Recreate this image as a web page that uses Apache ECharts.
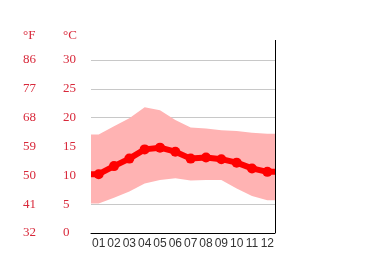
<!DOCTYPE html>
<html>
<head>
<meta charset="UTF-8">
<script src="https://cdn.jsdelivr.net/npm/echarts@6/dist/echarts.min.js"></script>
</head>
<body style="margin:0">
<div id="main" style="width:365px;height:273px;"></div>
<script>
var months = ['01', '02', '03', '04', '05', '06', '07', '08', '09', '10', '11', '12'];
var tMean = [10.2, 11.6, 12.9, 14.5, 14.8, 14.1, 12.9, 13.1, 12.8, 12.2, 11.2, 10.6];
var tHigh = [17.1, 18.5, 19.9, 21.8, 21.3, 19.6, 18.3, 18.1, 17.8, 17.7, 17.4, 17.2];
var tLow = [5.1, 6.1, 7.2, 8.6, 9.2, 9.5, 9.1, 9.2, 9.2, 7.7, 6.4, 5.7];

var red = '#d8283a';

// points at month centres, carried flat out to the plot edges
function pts(arr) {
    var out = [[0.5, arr[0]]];
    for (var i = 0; i < arr.length; i++) out.push([i + 1, arr[i]]);
    out.push([arr.length + 0.5, arr[arr.length - 1]]);
    return out;
}

var meanData = pts(tMean).map(function (p, i, a) {
    if (i === 0 || i === a.length - 1) return { value: p, symbol: 'none' };
    return { value: p };
});

var myChart = echarts.init(document.getElementById('main'));
var option = {
    animation: false,
    grid: { left: 91, right: 90, top: 60, bottom: 40 },
    graphic: [
        { type: 'text', left: 23, top: 29, style: { text: '°F', fill: red, font: '13px "Liberation Serif"' } },
        { type: 'text', left: 63, top: 29, style: { text: '°C', fill: red, font: '13px "Liberation Serif"' } },
        { type: 'line', shape: { x1: 275.5, y1: 40, x2: 275.5, y2: 233 }, style: { stroke: '#000', lineWidth: 1 } }
    ],
    xAxis: [{
        type: 'category',
        data: months,
        boundaryGap: true,
        axisLine: { lineStyle: { color: '#000' } },
        axisTick: { length: 5, lineStyle: { color: '#000' } },
        axisLabel: { color: '#333', fontFamily: 'Liberation Sans', fontSize: 12, margin: 5, interval: 0 }
    }, {
        type: 'value', min: 0.5, max: 12.5, show: false
    }],
    yAxis: [{
        type: 'value', min: 0, max: 30, interval: 5, position: 'left',
        axisLine: { show: false }, axisTick: { show: false },
        splitLine: { lineStyle: { color: '#c8c8c8' } },
        axisLabel: { align: 'left', margin: 28, color: red, fontFamily: 'Liberation Serif', fontSize: 13 }
    }, {
        type: 'value', min: 0, max: 30, interval: 5, position: 'left', offset: 40,
        axisLine: { show: false }, axisTick: { show: false }, splitLine: { show: false },
        axisLabel: {
            align: 'left', margin: 28, color: red, fontFamily: 'Liberation Serif', fontSize: 13,
            formatter: function (v) { return Math.round(v * 9 / 5 + 32); }
        }
    }],
    series: [{
        // min/max band as one polygon
        type: 'custom', xAxisIndex: 1, yAxisIndex: 0,
        data: [[1, tLow[0]]],
        silent: true,
        renderItem: function (params, api) {
            var top = pts(tHigh), bot = pts(tLow).reverse();
            var points = top.concat(bot).map(function (p) { return api.coord(p); });
            return { type: 'polygon', shape: { points: points }, style: { fill: '#ffb3b3' } };
        }
    }, {
        type: 'line', xAxisIndex: 1, yAxisIndex: 0,
        data: meanData, symbol: 'circle', symbolSize: 10, showSymbol: true,
        itemStyle: { color: '#ff0000' },
        lineStyle: { color: '#ff0000', width: 6 }
    }]
};
myChart.setOption(option);
</script>
</body>
</html>
